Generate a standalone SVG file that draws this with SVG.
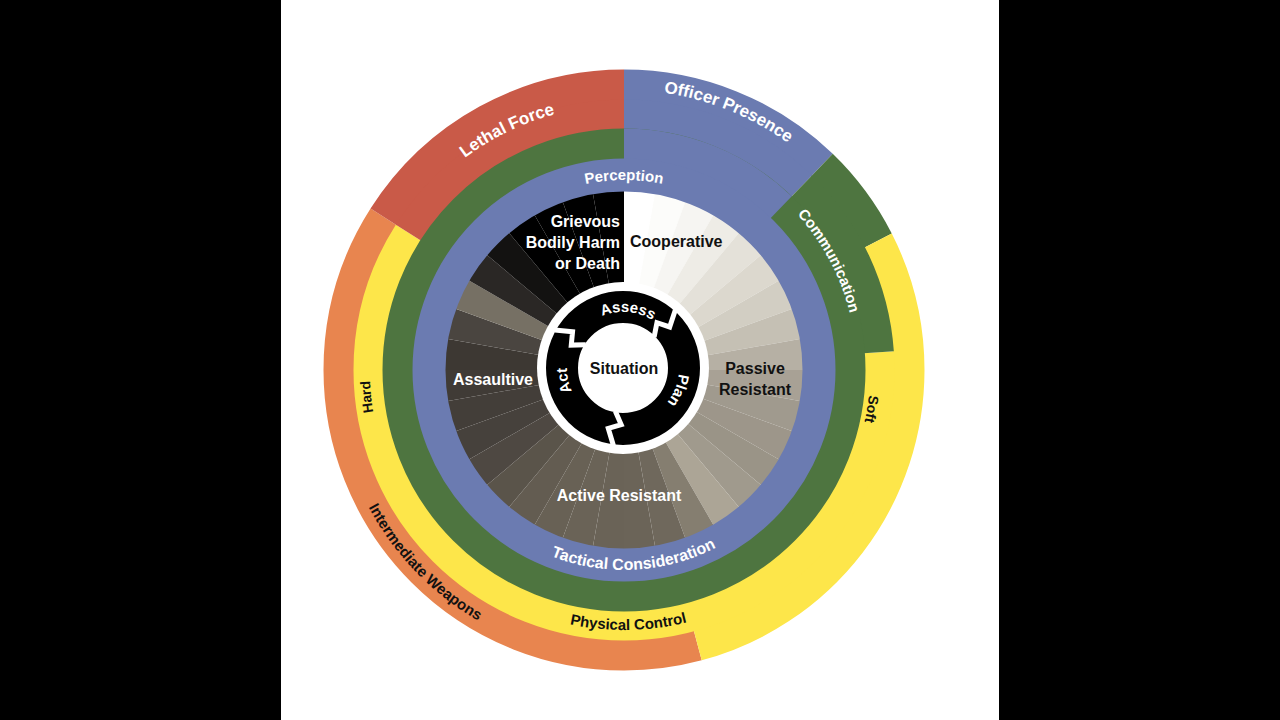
<svg xmlns="http://www.w3.org/2000/svg" width="1280" height="720" viewBox="0 0 1280 720">
<style>
.arc{fill:none;}
.t{font-family:"Liberation Sans",Arial,sans-serif;font-weight:bold;}
.w{fill:#fff;}
.k{fill:#111;}
</style>
<rect width="1280" height="720" fill="#000"/>
<rect x="281" y="0" width="718" height="720" fill="#fff"/>
<g id="pie">
<path d="M624,370L624,190L655.2,192.7Z" fill="#ffffff"/>
<path d="M624,370L655.2,192.7L685.6,200.9Z" fill="#fcfcfa"/>
<path d="M624,370L685.6,200.9L714,214.1Z" fill="#f6f5f2"/>
<path d="M624,370L714,214.1L739.7,232.1Z" fill="#eeece6"/>
<path d="M624,370L739.7,232.1L761.9,254.3Z" fill="#e4e1d9"/>
<path d="M624,370L761.9,254.3L779.9,280Z" fill="#dcd8ce"/>
<path d="M624,370L779.9,280L793.1,308.4Z" fill="#d2cec3"/>
<path d="M624,370L793.1,308.4L801.3,338.8Z" fill="#c5c0b4"/>
<path d="M624,370L801.3,338.8L804,370Z" fill="#b6b0a4"/>
<path d="M624,370L804,370L801.3,401.2Z" fill="#a8a195"/>
<path d="M624,370L801.3,401.2L793.1,431.6Z" fill="#a09a8e"/>
<path d="M624,370L793.1,431.6L779.9,460Z" fill="#9d968a"/>
<path d="M624,370L779.9,460L761.9,485.7Z" fill="#9a9487"/>
<path d="M624,370L761.9,485.7L739.7,507.9Z" fill="#a09a8d"/>
<path d="M624,370L739.7,507.9L714,525.9Z" fill="#aca596"/>
<path d="M624,370L714,525.9L685.6,539.1Z" fill="#857e70"/>
<path d="M624,370L685.6,539.1L655.2,547.3Z" fill="#6f685c"/>
<path d="M624,370L655.2,547.3L624,550Z" fill="#6b6458"/>
<path d="M624,370L624,550L592.8,547.3Z" fill="#6a6357"/>
<path d="M624,370L592.8,547.3L562.4,539.1Z" fill="#6a6357"/>
<path d="M624,370L562.4,539.1L534,525.9Z" fill="#686155"/>
<path d="M624,370L534,525.9L508.3,507.9Z" fill="#635c51"/>
<path d="M624,370L508.3,507.9L486.1,485.7Z" fill="#5a544a"/>
<path d="M624,370L486.1,485.7L468.1,460Z" fill="#4e4842"/>
<path d="M624,370L468.1,460L454.9,431.6Z" fill="#46413c"/>
<path d="M624,370L454.9,431.6L446.7,401.2Z" fill="#433e39"/>
<path d="M624,370L446.7,401.2L444,370Z" fill="#403b36"/>
<path d="M624,370L444,370L446.7,338.8Z" fill="#3d3833"/>
<path d="M624,370L446.7,338.8L454.9,308.4Z" fill="#4a4540"/>
<path d="M624,370L454.9,308.4L468.1,280Z" fill="#767064"/>
<path d="M624,370L468.1,280L486.1,254.3Z" fill="#2a2725"/>
<path d="M624,370L486.1,254.3L508.3,232.1Z" fill="#131211"/>
<path d="M624,370L508.3,232.1L534,214.1Z" fill="#000"/>
<path d="M624,370L534,214.1L562.4,200.9Z" fill="#000"/>
<path d="M624,370L562.4,200.9L592.8,192.7Z" fill="#000"/>
<path d="M624,370L592.8,192.7L624,190Z" fill="#000"/>
</g>
<g id="rings" transform="rotate(-90 624 370)">
<circle class="arc" cx="624" cy="370" r="285" pathLength="360" stroke="#e8854f" stroke-width="31" stroke-dasharray="137.5 360" stroke-dashoffset="-165"/>
<circle class="arc" cx="624" cy="370" r="285" pathLength="360" stroke="#c95a48" stroke-width="31" stroke-dasharray="57.5 360" stroke-dashoffset="-302.5"/>
<circle class="arc" cx="624" cy="370" r="285" pathLength="360" stroke="#6b7bb1" stroke-width="31" stroke-dasharray="44 360" stroke-dashoffset="0"/>
<circle class="arc" cx="624" cy="370" r="285" pathLength="360" stroke="#4e7540" stroke-width="31" stroke-dasharray="19 360" stroke-dashoffset="-44"/>
<circle class="arc" cx="624" cy="370" r="285" pathLength="360" stroke="#fde64a" stroke-width="31" stroke-dasharray="102 360" stroke-dashoffset="-63"/>
<circle class="arc" cx="624" cy="370" r="255.5" pathLength="360" stroke="#fde64a" stroke-width="30" stroke-dasharray="216.5 360" stroke-dashoffset="-86"/>
<circle class="arc" cx="624" cy="370" r="255.5" pathLength="360" stroke="#c95a48" stroke-width="30" stroke-dasharray="57.5 360" stroke-dashoffset="-302.5"/>
<circle class="arc" cx="624" cy="370" r="255.5" pathLength="360" stroke="#6b7bb1" stroke-width="30" stroke-dasharray="44 360" stroke-dashoffset="0"/>
<circle class="arc" cx="624" cy="370" r="255.5" pathLength="360" stroke="#4e7540" stroke-width="30" stroke-dasharray="42 360" stroke-dashoffset="-44"/>
<circle class="arc" cx="624" cy="370" r="225" pathLength="360" stroke="#4e7540" stroke-width="33"/>
<circle class="arc" cx="624" cy="370" r="225" pathLength="360" stroke="#6b7bb1" stroke-width="33" stroke-dasharray="44 360" stroke-dashoffset="0"/>
<circle class="arc" cx="624" cy="370" r="195" stroke="#6b7bb1" stroke-width="33"/>
</g>
<defs>
<path id="pPer" d="M459.5,275 A190,190 0 0,1 788.5,275"/>
<path id="pTac" d="M456.3,478.9 A200,200 0 0,0 802.2,460.8"/>
<path id="pOff" d="M451.6,149.4 A280,280 0 0,1 901.3,331"/>
<path id="pLet" d="M359.6,351.5 A265,265 0 0,1 772.2,150.3"/>
<path id="pCom" d="M544.3,151.1 A233,233 0 0,1 761,558.5"/>
<path id="pSoft" d="M704.1,137.4 A246,246 0 0,1 628.3,616"/>
<path id="pHard" d="M606.3,623.4 A254,254 0 0,1 554,125.8"/>
<path id="pPhys" d="M401.1,503.9 A260,260 0 0,0 851.4,496"/>
<path id="pInt" d="M345.2,290.1 A290,290 0 0,0 694.2,651.4"/>
<path id="pAss" d="M568.9,353.5 A56,56 0 0,1 678.8,363.1"/>
<path id="pPlan" d="M652.7,320.5 A56,56 0 0,1 611.4,422.8"/>
<path id="pAct" d="M625,424 A56,56 0 0,1 602,316.1"/>
</defs>
<g id="labels" class="t">
<text class="w" font-size="15" text-anchor="middle"><textPath href="#pPer" startOffset="50%">Perception</textPath></text>
<text class="w" font-size="16" text-anchor="middle"><textPath href="#pTac" startOffset="50%">Tactical Consideration</textPath></text>
<text class="w" font-size="17" text-anchor="middle"><textPath href="#pOff" startOffset="50%">Officer Presence</textPath></text>
<text class="w" font-size="17" text-anchor="middle"><textPath href="#pLet" startOffset="50%">Lethal Force</textPath></text>
<text class="w" font-size="15" text-anchor="middle"><textPath href="#pCom" startOffset="50%">Communication</textPath></text>
<text class="k" font-size="14" text-anchor="middle"><textPath href="#pSoft" startOffset="50%">Soft</textPath></text>
<text class="k" font-size="14" text-anchor="middle"><textPath href="#pHard" startOffset="50%">Hard</textPath></text>
<text class="k" font-size="15" text-anchor="middle"><textPath href="#pPhys" startOffset="50%">Physical Control</textPath></text>
<text class="k" font-size="15" text-anchor="middle"><textPath href="#pInt" startOffset="50%">Intermediate Weapons</textPath></text>
</g>
<g id="pie-labels" class="t" font-size="16">
<text class="w" text-anchor="end" x="620" y="227">Grievous</text>
<text class="w" text-anchor="end" x="620" y="248">Bodily Harm</text>
<text class="w" text-anchor="end" x="620" y="269">or Death</text>
<text class="k" x="630" y="247">Cooperative</text>
<text class="k" text-anchor="middle" x="755" y="374">Passive</text>
<text class="k" text-anchor="middle" x="755" y="395">Resistant</text>
<text class="w" text-anchor="middle" x="493" y="385">Assaultive</text>
<text class="w" text-anchor="middle" x="619" y="501">Active Resistant</text>
</g>
<g id="cycle">
<circle cx="623" cy="368" r="86" fill="#fff"/>
<circle cx="623" cy="368" r="61" fill="none" stroke="#000" stroke-width="32"/>
<g stroke="#fff" stroke-width="5" fill="none" stroke-linejoin="miter">
<polyline points="623,324 615,312 627,306 619,290" transform="rotate(45 623 368)"/>
<polyline points="623,324 615,312 627,306 619,290" transform="rotate(190 623 368)"/>
<polyline points="623,324 615,312 627,306 619,290" transform="rotate(302 623 368)"/>
</g>
<text class="t k" font-size="16" text-anchor="middle" x="624" y="374">Situation</text>
<g class="t w" font-size="15">
<text text-anchor="middle"><textPath href="#pAss" startOffset="50%">Assess</textPath></text>
<text text-anchor="middle"><textPath href="#pPlan" startOffset="50%">Plan</textPath></text>
<text text-anchor="middle"><textPath href="#pAct" startOffset="50%">Act</textPath></text>
</g>
</g>
</svg>
